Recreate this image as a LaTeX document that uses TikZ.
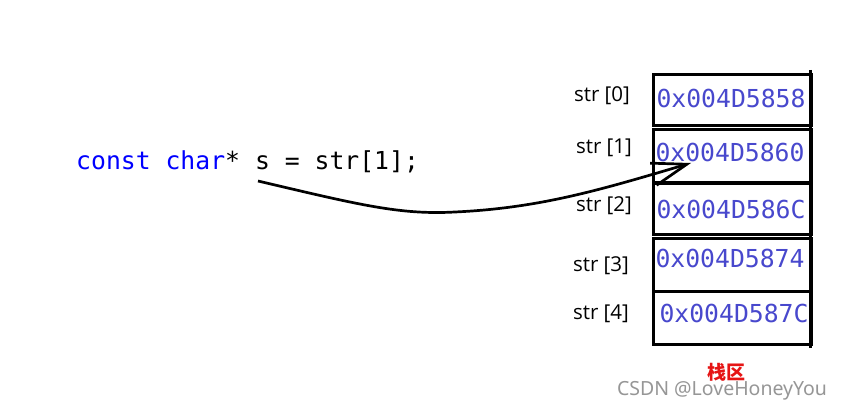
\documentclass[tikz,border=0pt]{standalone}
\usepackage{fontspec}
\setmainfont{Open Sans}
\newfontfamily\monof{DejaVu Sans Mono}
\newfontfamily\cjkf{Noto Sans CJK SC}
\newfontfamily\wmf{Noto Sans}
\usetikzlibrary{arrows.meta}
\definecolor{valblue}{RGB}{72,72,205}
\definecolor{codeblue}{RGB}{0,0,255}
\definecolor{markred}{RGB}{230,20,20}
\definecolor{wmgray}{RGB}{150,150,150}
\begin{document}
\begin{tikzpicture}[x=1pt,y=-1pt,
  cell/.style={draw=black, line width=3pt, minimum width=158pt, inner sep=0pt, anchor=north west},
  val/.style={inner sep=0pt, text=valblue, font=\monof\fontsize{24.75}{28}\selectfont},
  lab/.style={inner sep=0pt, text=black, font=\fontsize{20.5}{23}\selectfont},
  link/.style={line width=2.7pt, -{Straight Barb[length=35pt,width=23pt]}}
]
\path[fill=white] (0,0) rectangle (842,411);
\useasboundingbox (0,0) rectangle (842,411);

% stack cells
\node[cell, minimum height=51pt] (b0) at (652,73) {};
\node[cell, minimum height=53pt] (b1) at (652,128) {};
\node[cell, minimum height=51pt] (b2) at (652,182) {};
\node[cell, minimum height=53pt] (b3) at (652,237) {};
\node[cell, minimum height=53pt] (b4) at (652,290) {};
\coordinate (rt) at (810,70);
\coordinate (rb) at (810,348);
\draw[line width=3pt] (rt) -- (rb);

% values
\node[val] (v0) at (731,98) {0x004D5858};
\node[val] (v1) at (730,152) {0x004D5860};
\node[val] (v2) at (731,209) {0x004D586C};
\node[val] (v3) at (730,258) {0x004D5874};
\node[val] (v4) at (734,313) {0x004D587C};

% labels
\node[lab] (l0) at (602,96) {str [0]};
\node[lab] (l1) at (604,148) {str [1]};
\node[lab] (l2) at (604,206) {str [2]};
\node[lab] (l3) at (601,266) {str [3]};
\node[lab] (l4) at (601,314) {str [4]};

% code
\node[anchor=base west, inner sep=0pt, font=\monof\fontsize{24.75}{28}\selectfont] (code) at (76,170)
  {{\color{codeblue}const char}* s = str[1];};

% arrow
\coordinate (s0) at (258,181);
\coordinate (low) at (455,212);
\coordinate (tip) at (691,163);
\draw[link] (s0) .. controls (360,205) and (400,215) .. (low)
  .. controls (540,208) and (600,190) .. (tip);

% captions
\node[inner sep=0pt, text=markred, font=\cjkf\bfseries\fontsize{19}{21}\selectfont] (zq) at (726,372) {栈区};
\node[inner sep=0pt, text=wmgray, font=\wmf\fontsize{19.5}{22}\selectfont] (wm) at (722,391) {CSDN @LoveHoneyYou};
\end{tikzpicture}
\end{document}
